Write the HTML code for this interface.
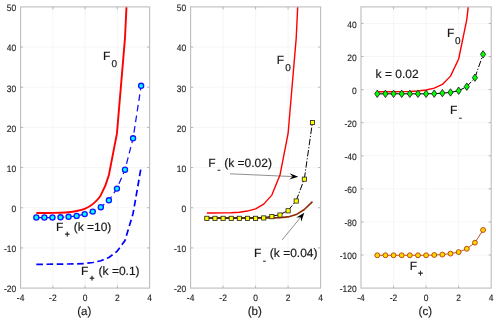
<!DOCTYPE html>
<html><head><meta charset="utf-8"><title>Figure</title>
<style>
html,body{margin:0;padding:0;background:#fff;}
body{width:496px;height:321px;overflow:hidden;}
svg{display:block;}
text{font-family:"Liberation Sans",Arial,sans-serif;fill:#1a1a1a;text-rendering:geometricPrecision;}
.tk{font-size:9.4px;fill:#262626;stroke:#262626;stroke-width:0.15px;}
.lb{font-size:12px;stroke:#1a1a1a;stroke-width:0.2px;}
.sb{font-size:10px;stroke:#1a1a1a;stroke-width:0.2px;}
.sp{font-size:8.6px;stroke:#1a1a1a;stroke-width:0.4px;}
.pl{font-size:11.6px;stroke:#1a1a1a;stroke-width:0.15px;}
</style></head><body>
<svg width="496" height="321" viewBox="0 0 496 321">
<path d="M52.85 6.9V288.1M85.1 6.9V288.1M117.35 6.9V288.1M20.6 47.07H149.6M20.6 87.24H149.6M20.6 127.41H149.6M20.6 167.59H149.6M20.6 207.76H149.6M20.6 247.93H149.6" stroke="#f4f4f4" stroke-width="0.8" fill="none"/>
<path d="M223.1 6.9V288.1M255.6 6.9V288.1M288.1 6.9V288.1M190.6 47.07H320.6M190.6 87.24H320.6M190.6 127.41H320.6M190.6 167.59H320.6M190.6 207.76H320.6M190.6 247.93H320.6" stroke="#f4f4f4" stroke-width="0.8" fill="none"/>
<path d="M393.55 6.9V288.1M426.1 6.9V288.1M458.65 6.9V288.1M361 23.44H491.2M361 56.52H491.2M361 89.61H491.2M361 122.69H491.2M361 155.77H491.2M361 188.85H491.2M361 221.94H491.2M361 255.02H491.2" stroke="#f4f4f4" stroke-width="0.8" fill="none"/>
<g transform="translate(-0.4,0)"><path d="M36.73 213.06C39.01 213.04 42.5 213 44.79 212.98C47.07 212.96 50.57 212.93 52.85 212.9C55.13 212.87 58.63 212.86 60.91 212.78C63.2 212.69 66.69 212.54 68.97 212.3C71.26 212.05 74.75 211.55 77.04 211.05C79.32 210.56 82.82 209.78 85.1 208.8C87.38 207.82 90.88 206.08 93.16 204.14C95.45 202.2 98.94 199.23 101.22 195.1C103.51 190.98 107.51 181.65 109.29 175.02L117.35 133.44L125.41 37.83L126.87 6.9" fill="none" stroke="#f00" stroke-width="1.9" stroke-linejoin="round"/></g>
<polyline points="36.33,264.3 44.39,264.3 52.45,264.2 60.51,264.1 68.57,264 76.64,263.8 84.7,263.5 92.76,262.5 100.82,260.8 108.89,257.5 116.95,251.5 125.01,240.5 133.07,213.5 141.14,167.2" fill="none" stroke="#00f" stroke-width="1.7" stroke-dasharray="6.6 3.6"/>
<polyline points="36.33,217.5 44.39,217.5 52.45,217.5 60.51,217.3 68.57,216.8 76.64,215.9 84.7,214.1 92.76,211.6 100.82,207.2 108.89,200.3 116.95,188.6 125.01,169.7 133.07,138.3 141.14,85.8" fill="none" stroke="#1010ff" stroke-width="1.25" stroke-dasharray="6.6 4.1"/>
<circle cx="36.33" cy="217.5" r="2.55" fill="#0ff" stroke="#1414ff" stroke-width="1.3"/>
<circle cx="44.39" cy="217.5" r="2.55" fill="#0ff" stroke="#1414ff" stroke-width="1.3"/>
<circle cx="52.45" cy="217.5" r="2.55" fill="#0ff" stroke="#1414ff" stroke-width="1.3"/>
<circle cx="60.51" cy="217.3" r="2.55" fill="#0ff" stroke="#1414ff" stroke-width="1.3"/>
<circle cx="68.57" cy="216.8" r="2.55" fill="#0ff" stroke="#1414ff" stroke-width="1.3"/>
<circle cx="76.64" cy="215.9" r="2.55" fill="#0ff" stroke="#1414ff" stroke-width="1.3"/>
<circle cx="84.7" cy="214.1" r="2.55" fill="#0ff" stroke="#1414ff" stroke-width="1.3"/>
<circle cx="92.76" cy="211.6" r="2.55" fill="#0ff" stroke="#1414ff" stroke-width="1.3"/>
<circle cx="100.82" cy="207.2" r="2.55" fill="#0ff" stroke="#1414ff" stroke-width="1.3"/>
<circle cx="108.89" cy="200.3" r="2.55" fill="#0ff" stroke="#1414ff" stroke-width="1.3"/>
<circle cx="116.95" cy="188.6" r="2.55" fill="#0ff" stroke="#1414ff" stroke-width="1.3"/>
<circle cx="125.01" cy="169.7" r="2.55" fill="#0ff" stroke="#1414ff" stroke-width="1.3"/>
<circle cx="133.07" cy="138.3" r="2.55" fill="#0ff" stroke="#1414ff" stroke-width="1.3"/>
<circle cx="141.14" cy="85.8" r="2.55" fill="#0ff" stroke="#1414ff" stroke-width="1.3"/>
<polyline points="206.85,213.06 214.97,212.98 223.1,212.9 231.22,212.78 239.35,212.3 247.48,211.05 255.6,208.8 263.73,204.14 271.85,195.1 279.98,175.02 288.1,133.44 296.23,37.83 297.69,6.9" fill="none" stroke="#f00" stroke-width="1.4" stroke-linejoin="round"/>
<polyline points="206.85,218 214.97,218 223.1,218 231.22,218 239.35,218 247.48,218 255.6,218 263.73,218 271.85,217.9 279.98,217.6 288.1,216.9 296.23,214.6 304.35,209.5 312.48,201.6" fill="none" stroke="#8f2a00" stroke-width="1.6" stroke-linejoin="round"/>
<path d="M206.85 218L214.97 218M214.97 218L223.1 218M223.1 218L231.22 218M231.22 218L239.35 218M239.35 218L247.48 218M247.48 218L255.6 218M255.6 218L263.73 217.6M263.73 217.6L271.85 216.31M271.85 216.31L279.98 214.67M279.98 214.67L288.1 210.45M288.1 210.45L296.23 200.65M296.23 200.65L304.35 178.83M304.35 178.83L312.48 122.19" fill="none" stroke="#000" stroke-width="1" stroke-dasharray="6.5 1.8 1.2 1.8"/>
<rect x="204.75" y="216.25" width="4.2" height="4.2" fill="#ff0" stroke="#222" stroke-width="0.8"/>
<rect x="212.88" y="216.25" width="4.2" height="4.2" fill="#ff0" stroke="#222" stroke-width="0.8"/>
<rect x="221" y="216.25" width="4.2" height="4.2" fill="#ff0" stroke="#222" stroke-width="0.8"/>
<rect x="229.12" y="216.25" width="4.2" height="4.2" fill="#ff0" stroke="#222" stroke-width="0.8"/>
<rect x="237.25" y="216.25" width="4.2" height="4.2" fill="#ff0" stroke="#222" stroke-width="0.8"/>
<rect x="245.38" y="216.25" width="4.2" height="4.2" fill="#ff0" stroke="#222" stroke-width="0.8"/>
<rect x="253.5" y="216.25" width="4.2" height="4.2" fill="#ff0" stroke="#222" stroke-width="0.8"/>
<rect x="261.62" y="215.85" width="4.2" height="4.2" fill="#ff0" stroke="#222" stroke-width="0.8"/>
<rect x="269.75" y="214.56" width="4.2" height="4.2" fill="#ff0" stroke="#222" stroke-width="0.8"/>
<rect x="277.88" y="212.92" width="4.2" height="4.2" fill="#ff0" stroke="#222" stroke-width="0.8"/>
<rect x="286" y="208.7" width="4.2" height="4.2" fill="#ff0" stroke="#222" stroke-width="0.8"/>
<rect x="294.12" y="198.9" width="4.2" height="4.2" fill="#ff0" stroke="#222" stroke-width="0.8"/>
<rect x="302.25" y="177.08" width="4.2" height="4.2" fill="#ff0" stroke="#222" stroke-width="0.8"/>
<rect x="310.38" y="120.44" width="4.2" height="4.2" fill="#ff0" stroke="#222" stroke-width="0.8"/>
<line x1="230" y1="173.8" x2="292.59" y2="176.55" stroke="#444" stroke-width="0.6"/>
<polygon points="298.3,176.8 289.65,173.22 292.59,176.55 289.37,179.61" fill="#000"/>
<line x1="282.2" y1="239.9" x2="300.69" y2="217.23" stroke="#444" stroke-width="0.6"/>
<polygon points="304.3,212.8 296.26,217.6 300.69,217.23 301.22,221.64" fill="#000"/>
<polyline points="377.27,91.79 385.41,91.76 393.55,91.72 401.69,91.67 409.82,91.48 417.96,90.96 426.1,90.04 434.24,88.12 442.38,84.4 450.51,76.12 458.65,59 466.79,19.64 468.25,6.9" fill="none" stroke="#f00" stroke-width="1.4" stroke-linejoin="round"/>
<path d="M377.27 93.82L385.41 93.82M385.41 93.82L393.55 93.82M393.55 93.82L401.69 93.82M401.69 93.82L409.82 93.82M409.82 93.82L417.96 93.82M417.96 93.82L426.1 93.82M426.1 93.82L434.24 93.66M434.24 93.66L442.38 93.13M442.38 93.13L450.51 92.45M450.51 92.45L458.65 90.71M458.65 90.71L466.79 86.68M466.79 86.68L474.92 77.7M474.92 77.7L483.06 54.37" fill="none" stroke="#000" stroke-width="1" stroke-dasharray="6.5 1.8 1.2 1.8"/>
<polygon points="377.27,90.12 379.88,93.82 377.27,97.52 374.67,93.82" fill="#0f0" stroke="#111" stroke-width="0.8"/>
<polygon points="385.41,90.12 388.01,93.82 385.41,97.52 382.81,93.82" fill="#0f0" stroke="#111" stroke-width="0.8"/>
<polygon points="393.55,90.12 396.15,93.82 393.55,97.52 390.95,93.82" fill="#0f0" stroke="#111" stroke-width="0.8"/>
<polygon points="401.69,90.12 404.29,93.82 401.69,97.52 399.09,93.82" fill="#0f0" stroke="#111" stroke-width="0.8"/>
<polygon points="409.82,90.12 412.43,93.82 409.82,97.52 407.22,93.82" fill="#0f0" stroke="#111" stroke-width="0.8"/>
<polygon points="417.96,90.12 420.56,93.82 417.96,97.52 415.36,93.82" fill="#0f0" stroke="#111" stroke-width="0.8"/>
<polygon points="426.1,90.12 428.7,93.82 426.1,97.52 423.5,93.82" fill="#0f0" stroke="#111" stroke-width="0.8"/>
<polygon points="434.24,89.96 436.84,93.66 434.24,97.36 431.64,93.66" fill="#0f0" stroke="#111" stroke-width="0.8"/>
<polygon points="442.38,89.43 444.98,93.13 442.38,96.83 439.77,93.13" fill="#0f0" stroke="#111" stroke-width="0.8"/>
<polygon points="450.51,88.75 453.11,92.45 450.51,96.15 447.91,92.45" fill="#0f0" stroke="#111" stroke-width="0.8"/>
<polygon points="458.65,87.01 461.25,90.71 458.65,94.41 456.05,90.71" fill="#0f0" stroke="#111" stroke-width="0.8"/>
<polygon points="466.79,82.98 469.39,86.68 466.79,90.38 464.19,86.68" fill="#0f0" stroke="#111" stroke-width="0.8"/>
<polygon points="474.92,74 477.52,77.7 474.92,81.4 472.32,77.7" fill="#0f0" stroke="#111" stroke-width="0.8"/>
<polygon points="483.06,50.67 485.66,54.37 483.06,58.07 480.46,54.37" fill="#0f0" stroke="#111" stroke-width="0.8"/>
<polyline points="377.27,255.3 385.41,255.3 393.55,255.3 401.69,255.3 409.82,255.3 417.96,255.3 426.1,255.3 434.24,255 442.38,254.6 450.51,253.6 458.65,252.1 466.79,248.8 474.92,242.7 483.06,230" fill="none" stroke="#b5400a" stroke-width="0.9"/>
<circle cx="377.27" cy="255.3" r="2.45" fill="#ffd800" stroke="#b8420c" stroke-width="0.95"/>
<circle cx="385.41" cy="255.3" r="2.45" fill="#ffd800" stroke="#b8420c" stroke-width="0.95"/>
<circle cx="393.55" cy="255.3" r="2.45" fill="#ffd800" stroke="#b8420c" stroke-width="0.95"/>
<circle cx="401.69" cy="255.3" r="2.45" fill="#ffd800" stroke="#b8420c" stroke-width="0.95"/>
<circle cx="409.82" cy="255.3" r="2.45" fill="#ffd800" stroke="#b8420c" stroke-width="0.95"/>
<circle cx="417.96" cy="255.3" r="2.45" fill="#ffd800" stroke="#b8420c" stroke-width="0.95"/>
<circle cx="426.1" cy="255.3" r="2.45" fill="#ffd800" stroke="#b8420c" stroke-width="0.95"/>
<circle cx="434.24" cy="255" r="2.45" fill="#ffd800" stroke="#b8420c" stroke-width="0.95"/>
<circle cx="442.38" cy="254.6" r="2.45" fill="#ffd800" stroke="#b8420c" stroke-width="0.95"/>
<circle cx="450.51" cy="253.6" r="2.45" fill="#ffd800" stroke="#b8420c" stroke-width="0.95"/>
<circle cx="458.65" cy="252.1" r="2.45" fill="#ffd800" stroke="#b8420c" stroke-width="0.95"/>
<circle cx="466.79" cy="248.8" r="2.45" fill="#ffd800" stroke="#b8420c" stroke-width="0.95"/>
<circle cx="474.92" cy="242.7" r="2.45" fill="#ffd800" stroke="#b8420c" stroke-width="0.95"/>
<circle cx="483.06" cy="230" r="2.45" fill="#ffd800" stroke="#b8420c" stroke-width="0.95"/>
<rect x="20.6" y="6.9" width="129" height="281.2" fill="none" stroke="#bdbdbd" stroke-width="1.1"/>
<path d="M52.85 288.1v-2.5M52.85 6.9v2.5M85.1 288.1v-2.5M85.1 6.9v2.5M117.35 288.1v-2.5M117.35 6.9v2.5M20.6 47.07h2.5M149.6 47.07h-2.5M20.6 87.24h2.5M149.6 87.24h-2.5M20.6 127.41h2.5M149.6 127.41h-2.5M20.6 167.59h2.5M149.6 167.59h-2.5M20.6 207.76h2.5M149.6 207.76h-2.5M20.6 247.93h2.5M149.6 247.93h-2.5" stroke="#b0b0b0" stroke-width="0.9" fill="none"/>
<text class="tk" transform="translate(20.6,301.3) scale(0.9,1)" text-anchor="middle">-4</text>
<text class="tk" transform="translate(52.85,301.3) scale(0.9,1)" text-anchor="middle">-2</text>
<text class="tk" transform="translate(85.1,301.3) scale(0.9,1)" text-anchor="middle">0</text>
<text class="tk" transform="translate(117.35,301.3) scale(0.9,1)" text-anchor="middle">2</text>
<text class="tk" transform="translate(149.6,301.3) scale(0.9,1)" text-anchor="middle">4</text>
<text class="tk" transform="translate(16.2,11.2) scale(0.9,1)" text-anchor="end">50</text>
<text class="tk" transform="translate(16.2,51.37) scale(0.9,1)" text-anchor="end">40</text>
<text class="tk" transform="translate(16.2,91.54) scale(0.9,1)" text-anchor="end">30</text>
<text class="tk" transform="translate(16.2,131.71) scale(0.9,1)" text-anchor="end">20</text>
<text class="tk" transform="translate(16.2,171.89) scale(0.9,1)" text-anchor="end">10</text>
<text class="tk" transform="translate(16.2,212.06) scale(0.9,1)" text-anchor="end">0</text>
<text class="tk" transform="translate(16.2,252.23) scale(0.9,1)" text-anchor="end">-10</text>
<text class="tk" transform="translate(16.2,292.4) scale(0.9,1)" text-anchor="end">-20</text>
<rect x="190.6" y="6.9" width="130" height="281.2" fill="none" stroke="#bdbdbd" stroke-width="1.1"/>
<path d="M223.1 288.1v-2.5M223.1 6.9v2.5M255.6 288.1v-2.5M255.6 6.9v2.5M288.1 288.1v-2.5M288.1 6.9v2.5M190.6 47.07h2.5M320.6 47.07h-2.5M190.6 87.24h2.5M320.6 87.24h-2.5M190.6 127.41h2.5M320.6 127.41h-2.5M190.6 167.59h2.5M320.6 167.59h-2.5M190.6 207.76h2.5M320.6 207.76h-2.5M190.6 247.93h2.5M320.6 247.93h-2.5" stroke="#b0b0b0" stroke-width="0.9" fill="none"/>
<text class="tk" transform="translate(190.6,301.3) scale(0.9,1)" text-anchor="middle">-4</text>
<text class="tk" transform="translate(223.1,301.3) scale(0.9,1)" text-anchor="middle">-2</text>
<text class="tk" transform="translate(255.6,301.3) scale(0.9,1)" text-anchor="middle">0</text>
<text class="tk" transform="translate(288.1,301.3) scale(0.9,1)" text-anchor="middle">2</text>
<text class="tk" transform="translate(320.6,301.3) scale(0.9,1)" text-anchor="middle">4</text>
<text class="tk" transform="translate(186.2,11.2) scale(0.9,1)" text-anchor="end">50</text>
<text class="tk" transform="translate(186.2,51.37) scale(0.9,1)" text-anchor="end">40</text>
<text class="tk" transform="translate(186.2,91.54) scale(0.9,1)" text-anchor="end">30</text>
<text class="tk" transform="translate(186.2,131.71) scale(0.9,1)" text-anchor="end">20</text>
<text class="tk" transform="translate(186.2,171.89) scale(0.9,1)" text-anchor="end">10</text>
<text class="tk" transform="translate(186.2,212.06) scale(0.9,1)" text-anchor="end">0</text>
<text class="tk" transform="translate(186.2,252.23) scale(0.9,1)" text-anchor="end">-10</text>
<text class="tk" transform="translate(186.2,292.4) scale(0.9,1)" text-anchor="end">-20</text>
<rect x="361" y="6.9" width="130.2" height="281.2" fill="none" stroke="#bdbdbd" stroke-width="1.1"/>
<path d="M393.55 288.1v-2.5M393.55 6.9v2.5M426.1 288.1v-2.5M426.1 6.9v2.5M458.65 288.1v-2.5M458.65 6.9v2.5M361 23.44h2.5M491.2 23.44h-2.5M361 56.52h2.5M491.2 56.52h-2.5M361 89.61h2.5M491.2 89.61h-2.5M361 122.69h2.5M491.2 122.69h-2.5M361 155.77h2.5M491.2 155.77h-2.5M361 188.85h2.5M491.2 188.85h-2.5M361 221.94h2.5M491.2 221.94h-2.5M361 255.02h2.5M491.2 255.02h-2.5" stroke="#b0b0b0" stroke-width="0.9" fill="none"/>
<text class="tk" transform="translate(361,301.3) scale(0.9,1)" text-anchor="middle">-4</text>
<text class="tk" transform="translate(393.55,301.3) scale(0.9,1)" text-anchor="middle">-2</text>
<text class="tk" transform="translate(426.1,301.3) scale(0.9,1)" text-anchor="middle">0</text>
<text class="tk" transform="translate(458.65,301.3) scale(0.9,1)" text-anchor="middle">2</text>
<text class="tk" transform="translate(491.2,301.3) scale(0.9,1)" text-anchor="middle">4</text>
<text class="tk" transform="translate(356.6,27.74) scale(0.9,1)" text-anchor="end">40</text>
<text class="tk" transform="translate(356.6,60.82) scale(0.9,1)" text-anchor="end">20</text>
<text class="tk" transform="translate(356.6,93.91) scale(0.9,1)" text-anchor="end">0</text>
<text class="tk" transform="translate(356.6,126.99) scale(0.9,1)" text-anchor="end">-20</text>
<text class="tk" transform="translate(356.6,160.07) scale(0.9,1)" text-anchor="end">-40</text>
<text class="tk" transform="translate(356.6,193.15) scale(0.9,1)" text-anchor="end">-60</text>
<text class="tk" transform="translate(356.6,226.24) scale(0.9,1)" text-anchor="end">-80</text>
<text class="tk" transform="translate(356.6,259.32) scale(0.9,1)" text-anchor="end">-100</text>
<text class="tk" transform="translate(356.6,292.4) scale(0.9,1)" text-anchor="end">-120</text>
<text class="lb" x="103" y="60">F</text>
<text class="sb" x="111.6" y="66.8">0</text>
<text class="lb" x="56.1" y="231">F</text>
<text class="sp" x="67.2" y="236.6" text-anchor="middle">+</text>
<text class="lb" x="73.7" y="231">(k =10)</text>
<text class="lb" x="81" y="274.6">F</text>
<text class="sp" x="92.1" y="280.9" text-anchor="middle">+</text>
<text class="lb" x="98.6" y="274.6">(k =0.1)</text>
<text class="lb" x="276.7" y="64">F</text>
<text class="sb" x="285.2" y="70.8">0</text>
<text class="lb" x="208.3" y="166.8">F</text>
<text class="sb" x="217.2" y="173.3">-</text>
<text class="lb" x="224.2" y="166.8">(k =0.02)</text>
<text class="lb" x="253.9" y="257.3">F</text>
<text class="sb" x="262.8" y="263.8">-</text>
<text class="lb" x="269.8" y="257.3">(k =0.04)</text>
<text class="lb" x="446.9" y="37.1">F</text>
<text class="sb" x="455" y="43.9">0</text>
<text class="lb" x="375.6" y="77.6">k = 0.02</text>
<text class="lb" x="450" y="114.1">F</text>
<text class="sb" x="458.7" y="120.8">-</text>
<text class="lb" x="409.8" y="270.4">F</text>
<text class="sp" x="420.6" y="276" text-anchor="middle">+</text>
<text class="pl" x="84.3" y="315" text-anchor="middle">(a)</text>
<text class="pl" x="254.8" y="315" text-anchor="middle">(b)</text>
<text class="pl" x="425.3" y="315" text-anchor="middle">(c)</text>
</svg>
</body></html>
